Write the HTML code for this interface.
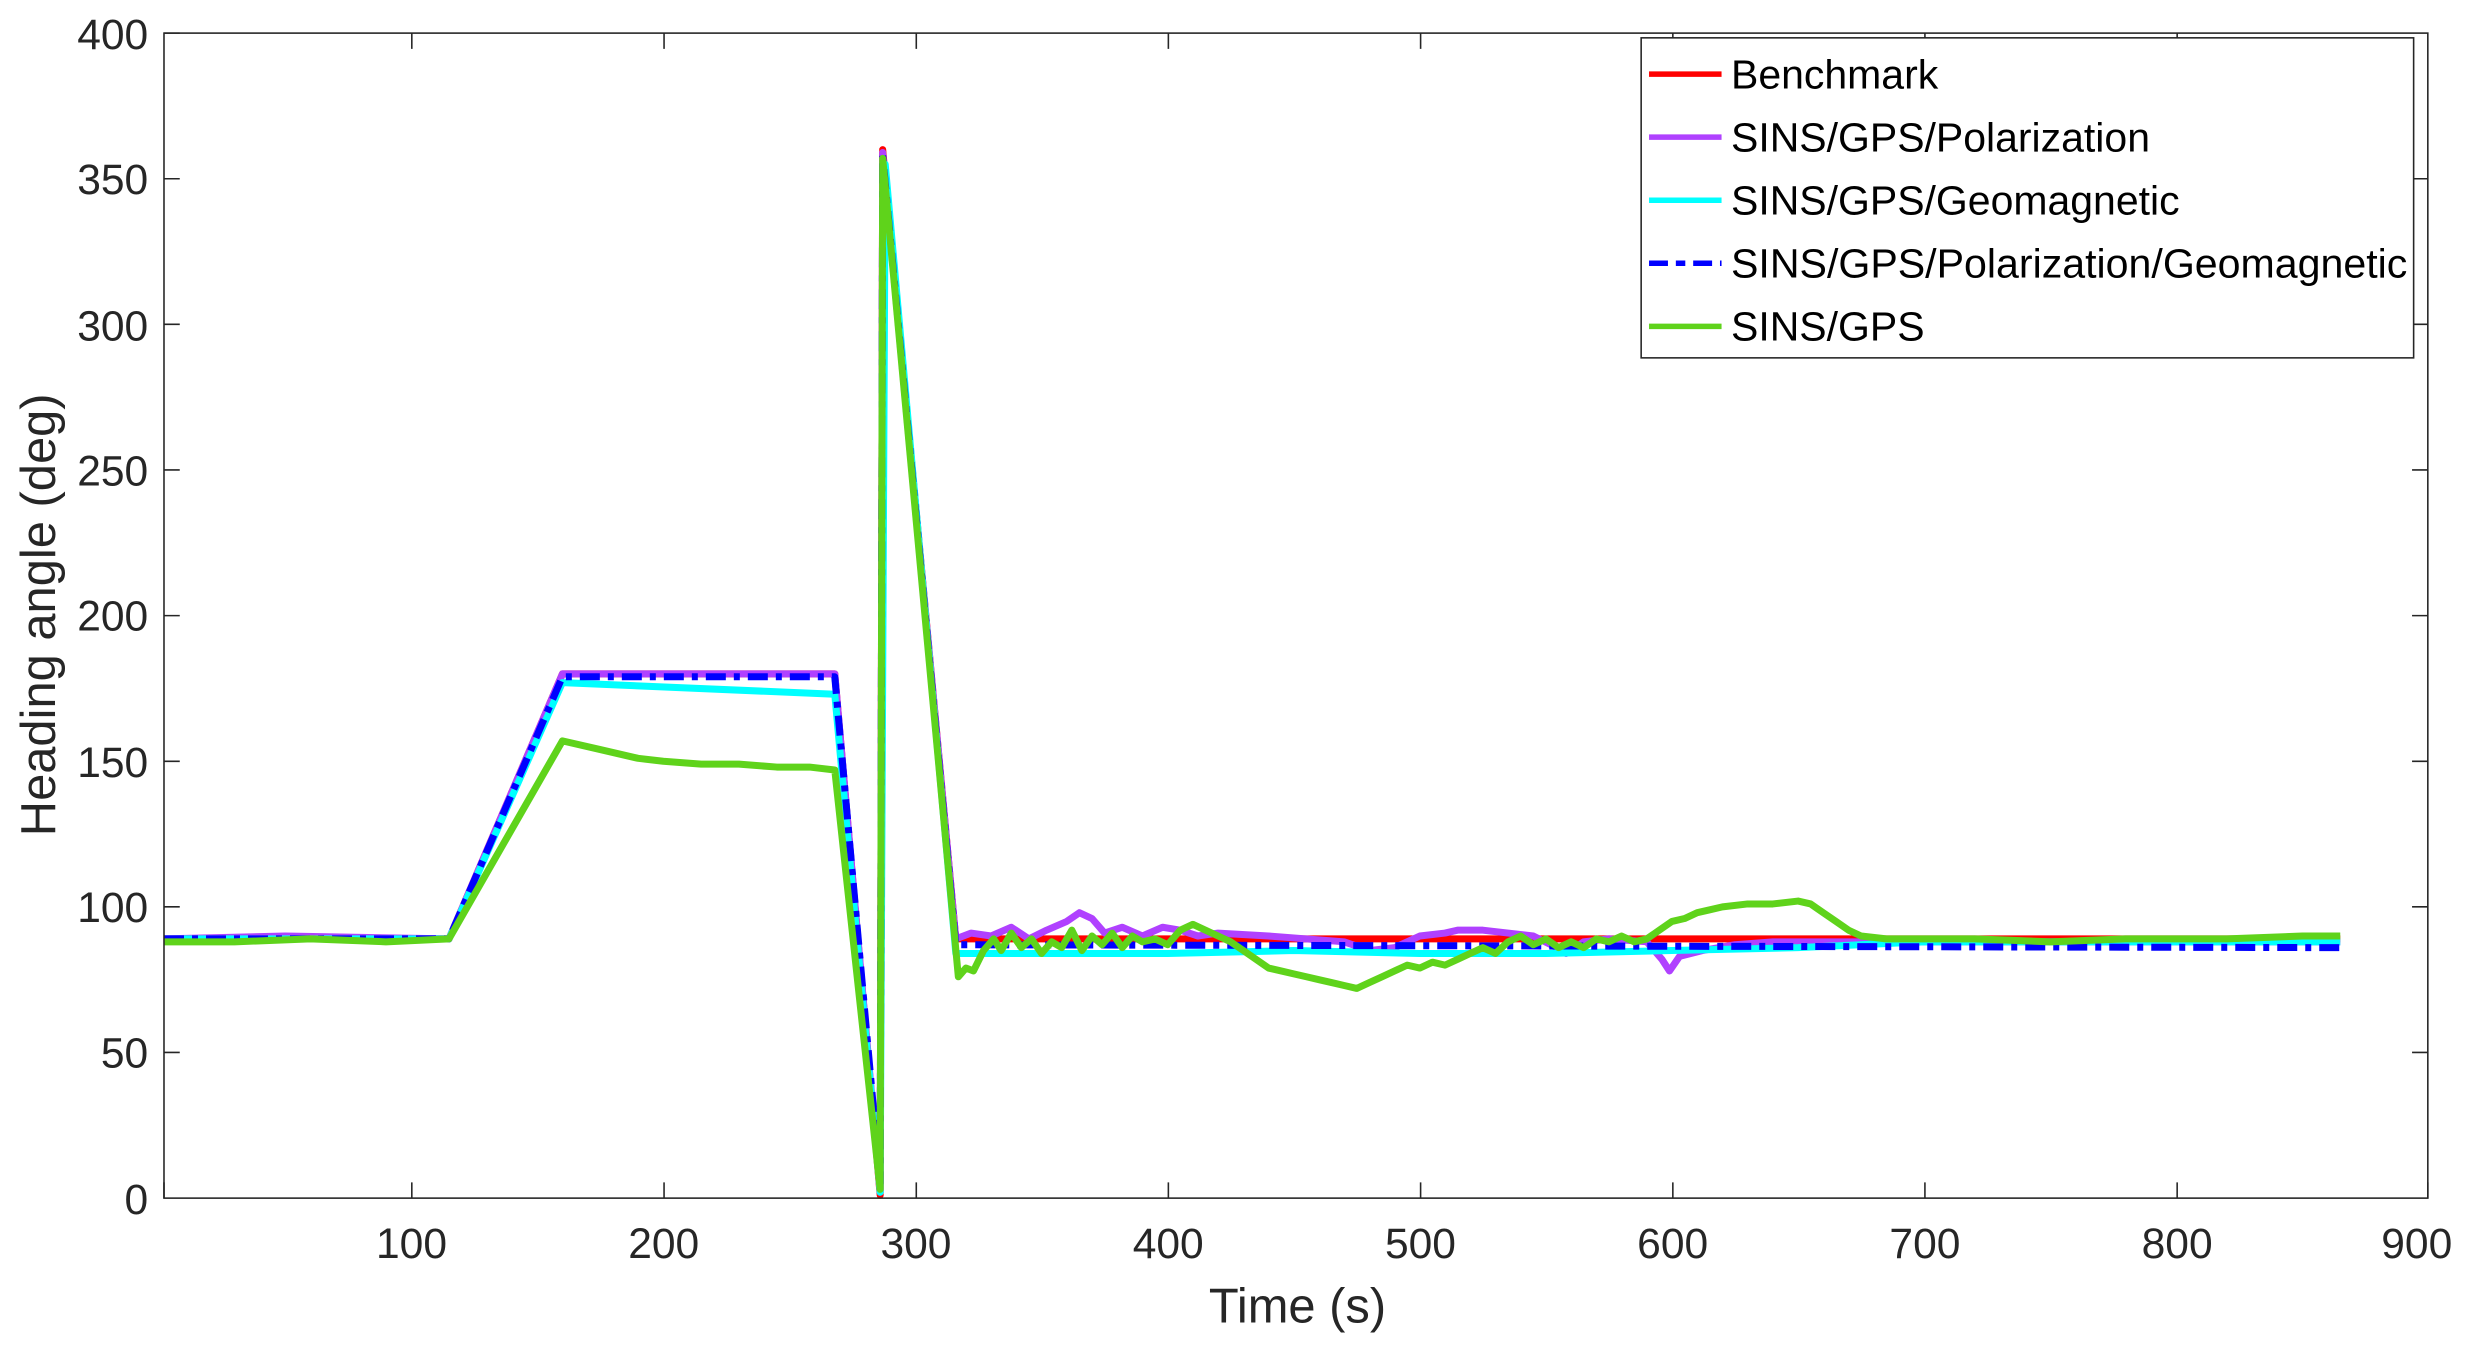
<!DOCTYPE html>
<html><head><meta charset="utf-8"><style>
html,body{margin:0;padding:0;background:#fff;}
svg{display:block;}
text{font-family:"Liberation Sans",Arial,sans-serif;fill:#262626;}
</style></head><body>
<svg width="2472" height="1346" viewBox="0 0 1568 853.8" xmlns="http://www.w3.org/2000/svg">
<rect x="0" y="0" width="1568" height="854" fill="#fff"/>
<g fill="none" stroke-linejoin="round" stroke-linecap="butt" transform="matrix(1.5996 0 0 -1.8475 100.8 760)">
<polyline vector-effect="non-scaling-stroke" stroke="#ff0000" stroke-width="7" points="2,89 115,89 160,180 268,180 286,1 287,360 316,89 865,89"/>
<polyline vector-effect="non-scaling-stroke" stroke="#b041ff" stroke-width="7" points="2,89 50,90 115,89 160,180 268,180 286,2 287,359 316,89 322,91 330,90 338,93 345,89 352,92 360,95 365,98 370,96 375,91 382,93 390,90 398,93 405,92 412,90 420,91 440,90 470,88 480,85 490,86 500,90 510,91 515,92 525,92 535,91 545,90 552,87 558,84 565,88 575,89 590,88 596,82 599,78 603,83 612,85 625,87 640,88 700,88 865,88"/>
<polyline vector-effect="non-scaling-stroke" stroke="#00ffff" stroke-width="7" points="2,89 115,89 160,177 268,173 286,2 288,355 316,84 350,84 400,84 450,85 500,84 550,84 600,85 650,86 700,88 865,88"/>
<polyline vector-effect="non-scaling-stroke" stroke="#0000ff" stroke-width="7" stroke-dasharray="20,8,6,8" points="2,89 115,89 160,179 268,179 286,5 287,358 316,87 865,86"/>
<polyline vector-effect="non-scaling-stroke" stroke="#5fd31b" stroke-width="7" points="2,88 30,88 60,89 90,88 115,89 160,157 175,154 190,151 200,150 215,149 230,149 245,148 258,148 268,147 286,3 287,357 317,76 320,79 323,78 327,85 331,89 334,85 338,91 342,86 346,89 350,84 354,88 358,86 362,92 366,85 370,90 374,87 378,91 382,86 386,90 390,88 395,89 400,87 405,92 410,94 415,92 420,90 425,88 430,85 435,82 440,79 445,78 450,77 455,76 460,75 465,74 470,73 475,72 480,74 485,76 490,78 495,80 500,79 505,81 510,80 515,82 520,84 525,86 530,84 535,88 540,90 545,87 550,89 555,86 560,88 565,86 570,89 575,88 580,90 585,88 590,89 595,92 600,95 605,96 610,98 615,99 620,100 630,101 640,101 650,102 655,101 660,98 665,95 670,92 675,90 685,89 700,89 720,89 750,88 780,89 820,89 850,90 865,90"/>
</g>
<g stroke="#262626" stroke-width="1" fill="none">
<rect x="104" y="21" width="1436" height="739"/>
<path d="M104,760v-10M261.2,760v-10M421.2,760v-10M581.2,760v-10M741.1,760v-10M901.1,760v-10M1061.1,760v-10M1221,760v-10M1381,760v-10M1540,760v-10
M261.2,21v10M421.2,21v10M581.2,21v10M741.1,21v10M901.1,21v10M1061.1,21v10M1221,21v10M1381,21v10
M104,667.6h10M104,575.2h10M104,482.9h10M104,390.5h10M104,298.1h10M104,205.7h10M104,113.4h10M104,21h10
M1540,667.6h-10M1540,575.2h-10M1540,482.9h-10M1540,390.5h-10M1540,298.1h-10M1540,205.7h-10M1540,113.4h-10"/>
</g>
<g font-size="27" text-anchor="end">
<text x="94" y="770">0</text><text x="94" y="677">50</text><text x="94" y="585">100</text><text x="94" y="493">150</text><text x="94" y="400">200</text><text x="94" y="308">250</text><text x="94" y="216">300</text><text x="94" y="123">350</text><text x="94" y="31">400</text>
</g>
<g font-size="27" text-anchor="middle">
<text x="261" y="798">100</text><text x="421" y="798">200</text><text x="581" y="798">300</text><text x="741" y="798">400</text><text x="901" y="798">500</text><text x="1061" y="798">600</text><text x="1221" y="798">700</text><text x="1381" y="798">800</text><text x="1533" y="798">900</text>
<text x="823" y="839" font-size="31">Time (s)</text>
<text transform="translate(35,390) rotate(-90)" font-size="31">Heading angle (deg)</text>
</g>
<rect x="1041" y="24" width="490" height="203" fill="#fff" stroke="#262626" stroke-width="1"/>
<g stroke-width="3.5">
<line x1="1046" y1="47" x2="1092" y2="47" stroke="#ff0000"/>
<line x1="1046" y1="87" x2="1092" y2="87" stroke="#b041ff"/>
<line x1="1046" y1="127" x2="1092" y2="127" stroke="#00ffff"/>
<line x1="1046" y1="167" x2="1092" y2="167" stroke="#0000ff" stroke-dasharray="12,5,6,5"/>
<line x1="1046" y1="207" x2="1092" y2="207" stroke="#5fd31b"/>
</g>
<g font-size="26">
<text x="1098" y="56" style="fill:#000">Benchmark</text>
<text x="1098" y="96" style="fill:#000">SINS/GPS/Polarization</text>
<text x="1098" y="136" style="fill:#000">SINS/GPS/Geomagnetic</text>
<text x="1098" y="176" style="fill:#000" textLength="429" lengthAdjust="spacingAndGlyphs">SINS/GPS/Polarization/Geomagnetic</text>
<text x="1098" y="216" style="fill:#000">SINS/GPS</text>
</g>
</svg>
</body></html>
